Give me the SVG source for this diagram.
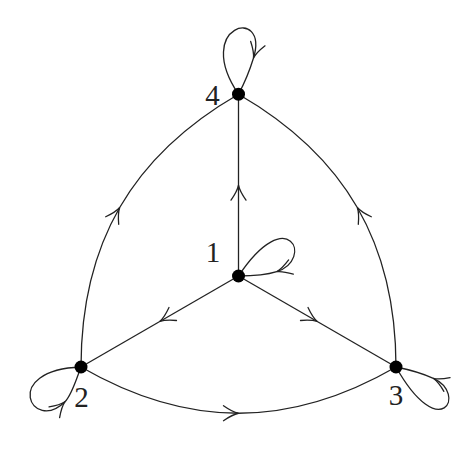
<svg xmlns="http://www.w3.org/2000/svg" width="474" height="450" viewBox="0 0 474 450">
  <style>
    .edge { fill: none; stroke: #222; stroke-width: 1.3; marker-mid: url(#ah); }
    .dot { fill: #000; }
    .lbl { font-family: "Liberation Serif", "DejaVu Serif", serif; font-size: 29px; fill: #222; text-anchor: middle; }
  </style>
  <defs>
    <marker id="ah" markerUnits="userSpaceOnUse" viewBox="-16 -10 20 20" markerWidth="20" markerHeight="20" refX="0" refY="0" orient="auto" overflow="visible">
      <path d="M -15 -7.5 Q -6 -1.2 0 0 Q -6 1.2 -15 7.5" fill="none" stroke="#222" stroke-width="1.3" stroke-linecap="round"/>
    </marker>
  </defs>
  <rect width="474" height="450" fill="#fff"/>
  <g id="connectors">
    <path class="edge" d="M 238.5 276 L 238.5 185.1 L 238.5 94.2"/>
    <path class="edge" d="M 238.5 276 L 159.75 321.5 L 81 367"/>
    <path class="edge" d="M 238.5 276 L 317.25 321.5 L 396 367"/>
    <path class="edge" d="M 81 367 C 81 305.35 93.675 252.575 119.7 207.49 C 145.725 162.4 185.1 125.0 238.5 94.2"/>
    <path class="edge" d="M 396 367 C 396 305.35 383.325 252.575 357.3 207.49 C 331.275 162.4 291.9 125.0 238.5 94.2"/>
    <path class="edge" d="M 81 367 C 134.4 397.825 186.45 413.24 238.5 413.24 C 290.55 413.24 342.6 397.825 396 367"/>
    <path class="edge" d="M 238.5 94.2 C 192 25 269.5 5.2 253.5 58 C 250 69.5 243.2 85.4 238.5 94.2"/>
    <path class="edge" d="M 238.5 276 C 288 201.3 314.7 259.3 276.7 271.7 C 265.3 275.4 252 276 238.5 276"/>
    <path class="edge" d="M 81 367 C 0 370 32 434 65 401.7 C 72 394.7 77 377 81 367"/>
    <path class="edge" d="M 396 367 C 440.1 445.3 467.9 393.9 433.3 378.3 C 422.4 373.4 406 369 396 367"/>
  </g>
  <g id="node1">
    <circle class="dot" cx="238.5" cy="276" r="6.5"/>
    <text class="lbl" x="213" y="262">1</text>
  </g>
  <g id="node2">
    <circle class="dot" cx="81" cy="367" r="6.5"/>
    <text class="lbl" x="81.5" y="406.5">2</text>
  </g>
  <g id="node3">
    <circle class="dot" cx="396" cy="367" r="6.5"/>
    <text class="lbl" x="396" y="405">3</text>
  </g>
  <g id="node4">
    <circle class="dot" cx="238.5" cy="94.2" r="6.5"/>
    <text class="lbl" x="212.5" y="105">4</text>
  </g>
</svg>
